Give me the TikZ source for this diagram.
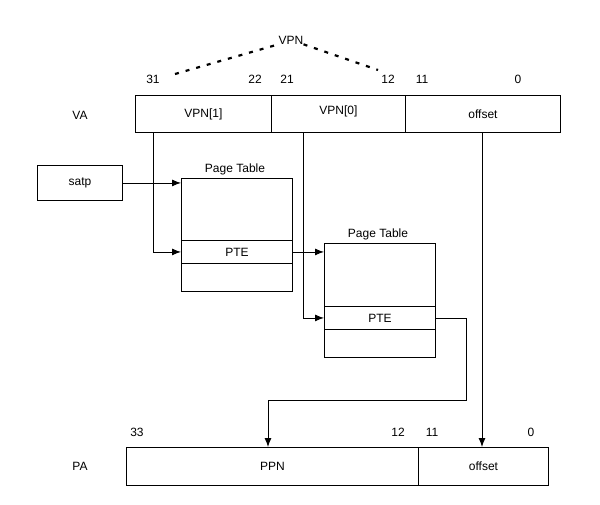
\documentclass[tikz,border=0pt]{standalone}
\usepackage{fontspec}
\setmainfont{Liberation Sans}
\begin{document}
\begin{tikzpicture}[x=1pt,y=-1pt,
  box/.style={draw,line width=0.9pt},
  lab/.style={font=\fontsize{12}{14}\selectfont,inner sep=0pt},
  arr/.style={draw,line width=0.9pt,-{Latex[length=9pt,width=7pt]}},
  ln/.style={draw,line width=0.9pt}]
\useasboundingbox (0,0) rectangle (600,504);
\usetikzlibrary{arrows.meta}
% VA
\node[box,minimum width=136pt,minimum height=37pt,anchor=north west,lab] (v1) at (135,95) {VPN[1]};
\node[box,minimum width=134pt,minimum height=37pt,anchor=north west,lab,text depth=8pt] (v0) at (271,95) {VPN[0]};
\node[box,minimum width=155pt,minimum height=37pt,anchor=north west,lab] (off) at (405,95) {offset};
\node[lab] (va) at (80,115) {VA};
\node[lab] (b31) at (153,79) {31};
\node[lab] (b22) at (255,79) {22};
\node[lab] (b21) at (287,79) {21};
\node[lab] (b12) at (388,79) {12};
\node[lab] (b11) at (422,79) {11};
\node[lab] (b0) at (518,79) {0};
\node[lab] (vpn) at (291,40) {VPN};
\draw[line width=2.2pt,dash pattern=on 4pt off 7pt] (175,74) -- (vpn.south west);
\draw[line width=2.2pt,dash pattern=on 4pt off 7pt] (vpn.south east) -- (378,70);
% satp
\node[box,minimum width=85pt,minimum height=35pt,anchor=north west,lab] (satp) at (37,165) {satp};
% Page table 1
\node[box,minimum width=111pt,minimum height=62pt,anchor=north west] (p1a) at (181,178) {};
\node[box,minimum width=111pt,minimum height=23pt,anchor=north west,lab] (pte1) at (181,240) {PTE};
\node[box,minimum width=111pt,minimum height=28pt,anchor=north west] (p1c) at (181,263) {};
\node[lab,anchor=south] (pt1) at (235,175) {Page Table};
% Page table 2
\node[box,minimum width=111pt,minimum height=63pt,anchor=north west] (p2a) at (324,243) {};
\node[box,minimum width=111pt,minimum height=23pt,anchor=north west,lab] (pte2) at (324,306) {PTE};
\node[box,minimum width=111pt,minimum height=28pt,anchor=north west] (p2c) at (324,329) {};
\node[lab,anchor=south] (pt2) at (378,240) {Page Table};
% PA
\node[box,minimum width=292pt,minimum height=38pt,anchor=north west,lab] (ppn) at (126,447) {PPN};
\node[box,minimum width=130pt,minimum height=38pt,anchor=north west,lab] (poff) at (418,447) {offset};
\node[lab] (pa) at (80,466) {PA};
\node[lab] (c33) at (137,432) {33};
\node[lab] (c12) at (398,432) {12};
\node[lab] (c11) at (432,432) {11};
\node[lab] (c0) at (531,432) {0};
% arrows
\coordinate (t1) at (p1a.west |- satp.east);
\draw[arr] (satp.east) -- (t1);
\draw[arr] (v1.south west) ++(18,0) |- (pte1.west);
\draw[arr] (pte1.east) -- (pte1.east -| p2a.west);
\draw[arr] (v0.south west) ++(32,0) |- (pte2.west);
\draw[arr] (pte2.east) -- ++(31,0) |- (268,400) -- (ppn.north -| 268,0);
\draw[arr] (off.south west) ++(77,0) -- (poff.north -| 482,0);
\end{tikzpicture}
\end{document}
